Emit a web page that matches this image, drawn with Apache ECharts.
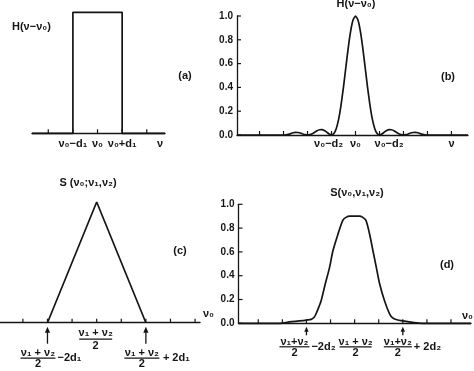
<!DOCTYPE html>
<html><head><meta charset="utf-8">
<script src="https://cdn.jsdelivr.net/npm/echarts@6/dist/echarts.min.js"></script>
<style>html,body{margin:0;padding:0;background:#fff}#main{width:474px;height:371px}</style>
</head><body><div id="main"></div>
<script>
// ---------- Panel (a): H(nu - nu0), x in units of d1 ----------
const aX = [-2.66, -1, -1, 1, 1, 2.74];
const aY = [0, 0, 1, 1, 0, 0];
const aTicks = [-2, -1, 0, 1, 2];
const aLabelPos = [-1, 0, 1, 2.54];
const aLabels = ['ν₀−d₁', 'ν₀', 'ν₀+d₁', 'ν'];

// ---------- Panel (b): H(nu - nu0), x in units of d2 ----------
const bX = [-4.94, -4, -3.5,
  -3.0, -2.9, -2.8, -2.7, -2.6, -2.5, -2.4, -2.3, -2.2, -2.1,
  -2.0, -1.9, -1.8, -1.7, -1.6, -1.5, -1.4, -1.3, -1.2, -1.1,
  -1.0, -0.9, -0.8, -0.7, -0.6, -0.5, -0.4, -0.3, -0.2, -0.1,
  0,
  0.1, 0.2, 0.3, 0.4, 0.5, 0.6, 0.7, 0.8, 0.9, 1.0,
  1.1, 1.2, 1.3, 1.4, 1.5, 1.6, 1.7, 1.8, 1.9, 2.0,
  2.1, 2.2, 2.3, 2.4, 2.5, 2.6, 2.7, 2.8, 2.9, 3.0,
  3.5, 4, 4.69];
const bY = [0, 0, 0,
  0, 0.002, 0.006, 0.012, 0.019, 0.022, 0.021, 0.017, 0.009, 0.003,
  0, 0.003, 0.011, 0.023, 0.036, 0.044, 0.045, 0.038, 0.024, 0.008,
  0, 0.012, 0.055, 0.135, 0.255, 0.405, 0.573, 0.737, 0.875, 0.968,
  1,
  0.968, 0.875, 0.737, 0.573, 0.405, 0.255, 0.135, 0.055, 0.012, 0,
  0.008, 0.024, 0.038, 0.045, 0.044, 0.036, 0.023, 0.011, 0.003, 0,
  0.003, 0.009, 0.017, 0.021, 0.022, 0.019, 0.012, 0.006, 0.002, 0,
  0, 0, 0];
const bTicks = [-4, -3, -2, -1, 0, 1, 2, 3, 4];
const bLabelPos = [-1.12, 0, 1.4, 4];
const bLabels = ['ν₀−d₂', 'ν₀', 'ν₀−d₂', 'ν'];
const yTicks = [0, 0.2, 0.4, 0.6, 0.8, 1.0];

// ---------- Panel (c): S(nu0; nu1, nu2), x in units of d1 ----------
const cX = [-2, 0, 2];
const cY = [0, 1, 0];
const cTicks = [-3, -2, -1, 0, 1, 2, 3, 4];
const cArrows = [-2, 2];
const cSuffix = ['−2d₁', '+ 2d₁'];

// ---------- Panel (d): S(nu0, nu1, nu2), x in units of d2 ----------
const dX = [-4.82, -3.1, -2.7, -2.3, -2.0, -1.8, -1.68, -1.58, -1.48, -1.39, -1.22, -1.04, -0.9, -0.69,
  -0.49, -0.36, -0.2, 0, 0.2, 0.34, 0.47, 0.62, 0.76, 0.9, 1.04, 1.24, 1.45, 1.58, 1.72, 2.0, 2.4, 2.8, 4.83];
const dY = [0, 0, 0.012, 0.02, 0.027, 0.033, 0.05, 0.09, 0.14, 0.19, 0.33, 0.47, 0.61, 0.75,
  0.865, 0.89, 0.9, 0.9, 0.9, 0.89, 0.865, 0.75, 0.61, 0.47, 0.33, 0.19, 0.08, 0.045, 0.032, 0.02, 0.008, 0, 0];
const dTicks = [-4, -3, -2, -1, 0, 1, 2, 3, 4];
const dArrows = [-2, 2];
const dSuffix = ['−2d₂', '+ 2d₂'];

const ink = '#151515';
const FONT = '"Liberation Sans", Arial, sans-serif';
const font = (s) => 'bold ' + s + 'px ' + FONT;

function pick(pos, labels) {
  return function (v) {
    for (let i = 0; i < pos.length; i++) if (Math.abs(pos[i] - v) < 1e-6) return labels[i];
    return '';
  };
}
function zip(xs, ys) { return xs.map((x, i) => [x, ys[i]]); }

function xAxisBase(gi, min, max) {
  return {
    type: 'value', gridIndex: gi, min: min, max: max,
    axisLine: { show: true, onZero: false, lineStyle: { color: ink, width: 1.4 } },
    axisTick: { show: false },
    splitLine: { show: false },
    axisLabel: { show: false }
  };
}

const xa = xAxisBase(0, -2.66, 2.74);
xa.axisLabel = { show: true, customValues: aLabelPos, formatter: pick(aLabelPos, aLabels), margin: 5,
  fontSize: 11, fontFamily: FONT, fontWeight: 'bold', color: ink };
const xb = xAxisBase(1, -4.94, 4.69);
xb.axisLabel = { show: true, customValues: bLabelPos, formatter: pick(bLabelPos, bLabels), margin: 3,
  fontSize: 11, fontFamily: FONT, fontWeight: 'bold', color: ink };
const xc = xAxisBase(2, -3.93, 4.2);
xc.name = 'ν₀'; xc.nameLocation = 'end'; xc.nameGap = 3;
xc.nameTextStyle = { fontSize: 11, fontFamily: FONT, fontWeight: 'bold', color: ink, verticalAlign: 'bottom', padding: [0, 0, 3, 0] };
const xd = xAxisBase(3, -4.82, 4.83);
xd.name = 'ν₀'; xd.nameLocation = 'end'; xd.nameGap = -9;
xd.nameTextStyle = { fontSize: 11, fontFamily: FONT, fontWeight: 'bold', color: ink, verticalAlign: 'bottom', padding: [0, 0, 2, 0] };

function yAxisShown(gi) {
  return {
    type: 'value', gridIndex: gi, min: 0, max: 1, interval: 0.2,
    axisLine: { show: true, onZero: false, lineStyle: { color: ink, width: 1.3 } },
    axisTick: { show: false },
    splitLine: { show: false },
    axisLabel: { show: true, margin: 4, fontSize: 10, fontFamily: FONT, fontWeight: 'bold', color: ink,
      formatter: (v) => v.toFixed(1) }
  };
}
function yAxisHidden(gi) {
  return { type: 'value', gridIndex: gi, min: 0, max: 1, show: false, splitLine: { show: false } };
}

function lineSeries(gi, data, smooth) {
  return { type: 'line', xAxisIndex: gi, yAxisIndex: gi, data: data, showSymbol: false, symbol: 'none',
    smooth: smooth || false, clip: false, lineStyle: { color: ink, width: 1.7 }, silent: true };
}

const gridBase = { containLabel: false, outerBoundsMode: 'none' };
const option = {
  animation: false,
  backgroundColor: '#fff',
  grid: [
    Object.assign({ left: 32, top: 12.3, width: 133, height: 121 }, gridBase),
    Object.assign({ left: 237, top: 16, width: 231, height: 119 }, gridBase),
    Object.assign({ left: 0, top: 202, width: 200, height: 120.7 }, gridBase),
    Object.assign({ left: 238.5, top: 204.3, width: 232.5, height: 119 }, gridBase)
  ],
  xAxis: [xa, xb, xc, xd],
  yAxis: [yAxisHidden(0), yAxisShown(1), yAxisHidden(2), yAxisShown(3)],
  series: [
    lineSeries(0, zip(aX, aY)),
    lineSeries(1, zip(bX, bY), 0.15),
    lineSeries(2, zip(cX, cY)),
    lineSeries(3, zip(dX, dY), 0.3)
  ]
};

const chart = echarts.init(document.getElementById('main'), null, { renderer: 'canvas' });
chart.setOption(option);

// ---------- annotations (positions derived from the axes) ----------
const g = [];
function P(gi, x, y) { return chart.convertToPixel({ gridIndex: gi }, [x, y]); }
function txt(x, y, s, align, size) {
  g.push({ type: 'text', x: x, y: y, silent: true,
    style: { text: s, fill: ink, font: font(size || 11), align: align || 'center', verticalAlign: 'middle' } });
}
function seg(x1, y1, x2, y2, w) {
  g.push({ type: 'line', silent: true, shape: { x1: x1, y1: y1, x2: x2, y2: y2 },
    style: { stroke: ink, lineWidth: w || 1.2 } });
}
function arrow(x, tipY, botY, hw, hh) {
  seg(x, tipY + hh - 1, x, botY, 1.3);
  g.push({ type: 'polygon', silent: true, shape: { points: [[x, tipY], [x - hw, tipY + hh], [x + hw, tipY + hh]] },
    style: { fill: ink } });
}
function frac(cx, ny, by, dy, w, num) {
  txt(cx, ny, num || 'ν₁ + ν₂');
  seg(cx - w / 2, by, cx + w / 2, by, 1.2);
  txt(cx, dy, '2');
}
// axis ticks (inward), placed through the axes' own scales
function xTicks(gi, ticks) {
  ticks.forEach((t) => { const p = P(gi, t, 0); seg(p[0], p[1], p[0], p[1] - 4, 1.2); });
}
function yTicksAt(gi, ticks, x0) {
  ticks.forEach((t) => { const p = P(gi, x0, t); seg(p[0], p[1], p[0] + 4, p[1], 1.2); });
}
xTicks(0, aTicks);
xTicks(1, bTicks);
xTicks(2, cTicks);
xTicks(3, dTicks);
yTicksAt(1, yTicks, -4.94);
yTicksAt(3, yTicks, -4.82);

// titles and panel tags
txt(12, 27, 'H(ν−ν₀)', 'left');
txt(185, 76, '(a)');
txt(356, 4, 'H(ν−ν₀)');
txt(448, 77, '(b)');
txt(88, 183, 'S (ν₀;ν₁,ν₂)');
txt(180, 251, '(c)');
txt(357, 193, 'S(ν₀,ν₁,ν₂)');
txt(447, 265, '(d)');

// panel (c) base annotations
{
  const c0 = P(2, 0, 0);
  const ay = c0[1];
  frac(c0[0] - 1, ay + 10.5, ay + 16.5, ay + 23.5, 33);
  const l = P(2, cArrows[0], 0)[0];
  const r = P(2, cArrows[1], 0)[0];
  arrow(l, ay + 4, ay + 21, 2.6, 6);
  arrow(r, ay + 4, ay + 21, 2.6, 6);
  frac(l - 9.5, ay + 30.5, ay + 35.5, ay + 41.5, 35);
  txt(l + 10, ay + 35, cSuffix[0], 'left');
  frac(r - 4, ay + 30.5, ay + 35.5, ay + 41.5, 35);
  txt(r + 17, ay + 35, cSuffix[1], 'left');
}
// panel (d) base annotations
{
  const d0 = P(3, 0, 0);
  const ay = d0[1];
  frac(d0[0] + 1, ay + 18.5, ay + 23.5, ay + 30, 32);
  const l = P(3, dArrows[0], 0)[0];
  const r = P(3, dArrows[1], 0)[0];
  arrow(l, ay + 3.5, ay + 12, 2.2, 5);
  arrow(r, ay + 3.5, ay + 12, 2.2, 5);
  frac(l - 12, ay + 18.5, ay + 23.5, ay + 30, 30, 'ν₁+ν₂');
  txt(l + 5, ay + 23.5, dSuffix[0], 'left');
  frac(r - 5, ay + 18.5, ay + 23.5, ay + 30, 28, 'ν₁+ν₂');
  txt(r + 11, ay + 23.5, dSuffix[1], 'left');
}
chart.setOption({ graphic: g });
</script>
</body></html>
